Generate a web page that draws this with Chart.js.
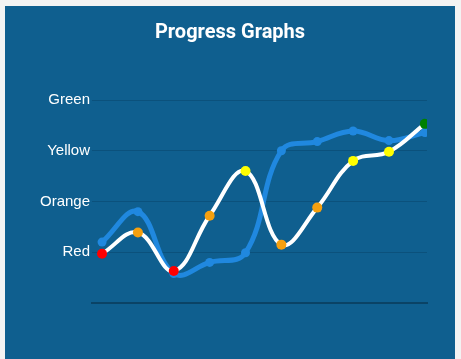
<!DOCTYPE html>
<html>
<head>
<meta charset="utf-8">
<script src="https://cdn.jsdelivr.net/npm/chart.js@4.4.1/dist/chart.umd.min.js"></script>
<style>
	html, body { margin: 0; padding: 0; background: #f3f3f3; overflow: hidden; }
	.card { position: absolute; left: 5px; top: 6px; width: 450px; height: 353px; background: #0f5f8f; }
	canvas { display: block; }
</style>
</head>
<body>
<div class="card"><canvas id="graph" width="450" height="353"></canvas></div>
<script>
// levels shown on the y axis (index = value)
var levelLabels = ['', 'Red', 'Orange', 'Yellow', 'Green'];
var levelColors = ['#ff0000', '#ff0000', '#f5a00f', '#ffff00', '#008000'];

var steps = [0, 1, 2, 3, 4, 5, 6, 7, 8, 9];

// white line with coloured points
var progress = [0.97, 1.39, 0.63, 1.72, 2.6, 1.15, 1.88, 2.8, 2.98, 3.53];
// blue line
var target = [1.2, 1.8, 0.58, 0.8, 0.99, 3.0, 3.18, 3.39, 3.2, 3.36];

function _map(arr, fn) {
	var out = [];
	for (var i = 0; i < arr.length; i++) out.push(fn(arr[i], i));
	return out;
}
function points(values) {
	return _map(values, function(v, i) { return { x: steps[i], y: v }; });
}

var pointColors = _map(progress, function(v) {
	return levelColors[Math.min(4, Math.ceil(v))];
});

var ctx = document.getElementById('graph').getContext('2d');

new Chart(ctx, {
	type: 'line',
	data: {
		datasets: [
			{
				data: points(progress),
				borderColor: '#ffffff',
				borderWidth: 4,
				tension: 0.4,
				pointRadius: 5,
				pointBorderWidth: 0,
				pointBackgroundColor: pointColors,
				pointBorderColor: pointColors
			},
			{
				data: points(target),
				borderColor: '#2088df',
				borderWidth: 5,
				tension: 0.4,
				pointRadius: 4.5,
				pointBorderWidth: 0,
				pointBackgroundColor: '#2088df',
				pointBorderColor: '#2088df'
			}
		]
	},
	options: {
		responsive: false,
		animation: false,
		layout: {
			padding: { left: 0, right: 0, bottom: 56, top: 0 }
		},
		plugins: {
			legend: { display: false },
			tooltip: { enabled: false },
			title: {
				display: true,
				text: 'Progress Graphs',
				color: '#ffffff',
				font: { family: 'Roboto', weight: 'bold', size: 20 },
				padding: { top: 15, bottom: 55 }
			}
		},
		scales: {
			x: {
				type: 'linear',
				min: -0.28,
				max: 9.06,
				ticks: { display: false },
				grid: { display: false, drawTicks: false },
				border: { display: true, color: '#0a4366', width: 2 }
			},
			y: {
				min: 0,
				max: 4,
				afterFit: function(scale) { scale.width = 87; },
				ticks: {
					stepSize: 1,
					padding: 2,
					color: '#ffffff',
					font: { family: 'Liberation Sans', size: 15 },
					callback: function(value) { return levelLabels[value]; }
				},
				grid: { color: 'rgba(0,30,60,0.22)', drawTicks: false },
				border: { display: false }
			},
			// empty right gutter so the title stays centred on the card
			gutter: {
				position: 'right',
				min: 0,
				max: 4,
				afterFit: function(scale) { scale.width = 28; },
				ticks: { display: false },
				grid: { display: false, drawTicks: false },
				border: { display: false }
			}
		}
	}
});
</script>
</body>
</html>
